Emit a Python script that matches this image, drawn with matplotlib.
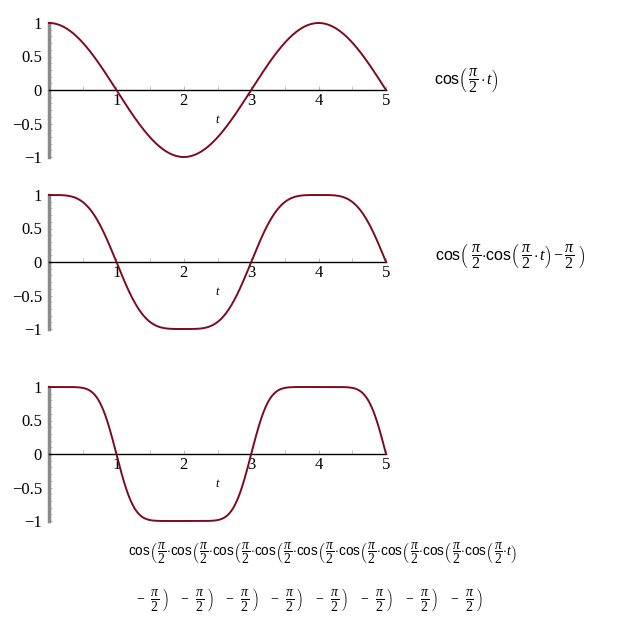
import numpy as np
import matplotlib
matplotlib.use("Agg")
import matplotlib.pyplot as plt
from matplotlib.ticker import MultipleLocator, FixedLocator

plt.rcParams['mathtext.fontset'] = 'custom'
plt.rcParams['mathtext.rm'] = 'Liberation Serif'
plt.rcParams['mathtext.it'] = 'Liberation Serif:italic'
plt.rcParams['mathtext.sf'] = 'Liberation Sans'
plt.rcParams['font.family'] = ['Liberation Serif', 'DejaVu Serif']

# ---- data ----
t_range = [0, 5]
nesting_depths = [1, 2, 3]          # nesting depth of the drawn curve in each panel
x_ticks = [1, 2, 3, 4, 5]
y_ticks = [-1, -0.5, 0, 0.5, 1]
y_tick_labels = ['\u22121', '\u22120.5', '0', '0.5', '1']
x_label = 't'

curve_color = '#7d0a1e'

def nested(t, depth):
    y = np.cos(np.pi / 2 * t)
    for _ in range(depth - 1):
        y = np.cos(np.pi / 2 * y - np.pi / 2)
    return y

# ---- formulas ----
COS = r'\mathsf{cos}'
F = r'\dfrac{\pi}{2}'
D = r'{\cdot}'
lab1 = r'$' + COS + r'\left(\,' + F + r'\,' + D + r'\,t\right)$'
lab2 = (r'$' + COS + r'\left(\;' + F + D + COS + r'\left(\;' + F +
        r'\,' + D + r'\,t\right)-' + F + r'\;\right)$')
line1 = r'$' + (COS + r'\left(\,' + F + D) * 9 + r't\right)' + r'\right.' * 8 + r'$'
line2 = r'$' + (r'\left.\quad-\enspace' + F + r'\;\right)') * 8 + r'$'

fig = plt.figure(figsize=(6.44, 6.25), dpi=100)
bottoms = [0.7488, 0.4736, 0.1664]
left, width, height = 0.0761, 0.5233, 0.2144

ts = np.linspace(t_range[0], t_range[1], 1000)
axes = []
for b, d in zip(bottoms, nesting_depths):
    ax = fig.add_axes([left, b, width, height])
    ax.plot(ts, nested(ts, d), color=curve_color, lw=1.4, zorder=3, clip_on=False)
    ax.set_xlim(t_range)
    ax.set_ylim(-1, 1)
    ax.spines['top'].set_visible(False)
    ax.spines['right'].set_visible(False)
    ax.spines['bottom'].set_position(('data', 0))
    ax.spines['bottom'].set_color('black')
    ax.spines['bottom'].set_linewidth(1.0)
    ax.spines['left'].set_color('#8a8a8a')
    ax.spines['left'].set_linewidth(2.5)
    ax.xaxis.set_major_locator(FixedLocator(x_ticks))
    ax.xaxis.set_minor_locator(MultipleLocator(0.5))
    ax.set_xticklabels([str(v) for v in x_ticks])
    ax.yaxis.set_major_locator(FixedLocator(y_ticks))
    ax.yaxis.set_minor_locator(MultipleLocator(0.1))
    ax.set_yticklabels(y_tick_labels)
    ax.tick_params(axis='x', which='both', direction='in', length=3,
                   color='#bbbbbb', labelsize=12, pad=2)
    ax.tick_params(axis='y', which='both', direction='in', length=2,
                   color='#bbbbbb', labelsize=12, pad=5)
    ax.text(2.5, -0.45, x_label, fontsize=9, style='italic',
            ha='center', va='center')
    ax.patch.set_visible(False)
    axes.append(ax)

fig.text(466 / 644, 1 - 81 / 625, lab1, fontsize=11.5, ha='center', va='center')
fig.text(510 / 644, 1 - 257 / 625, lab2, fontsize=11.5, ha='center', va='center')
fig.text(128 / 644, 1 - 553 / 625, line1, fontsize=9.8, ha='left', va='center')
fig.text(124 / 644, 1 - 600 / 625, line2, fontsize=10, ha='left', va='center')

fig.savefig('out.png', dpi=100, facecolor='white')
